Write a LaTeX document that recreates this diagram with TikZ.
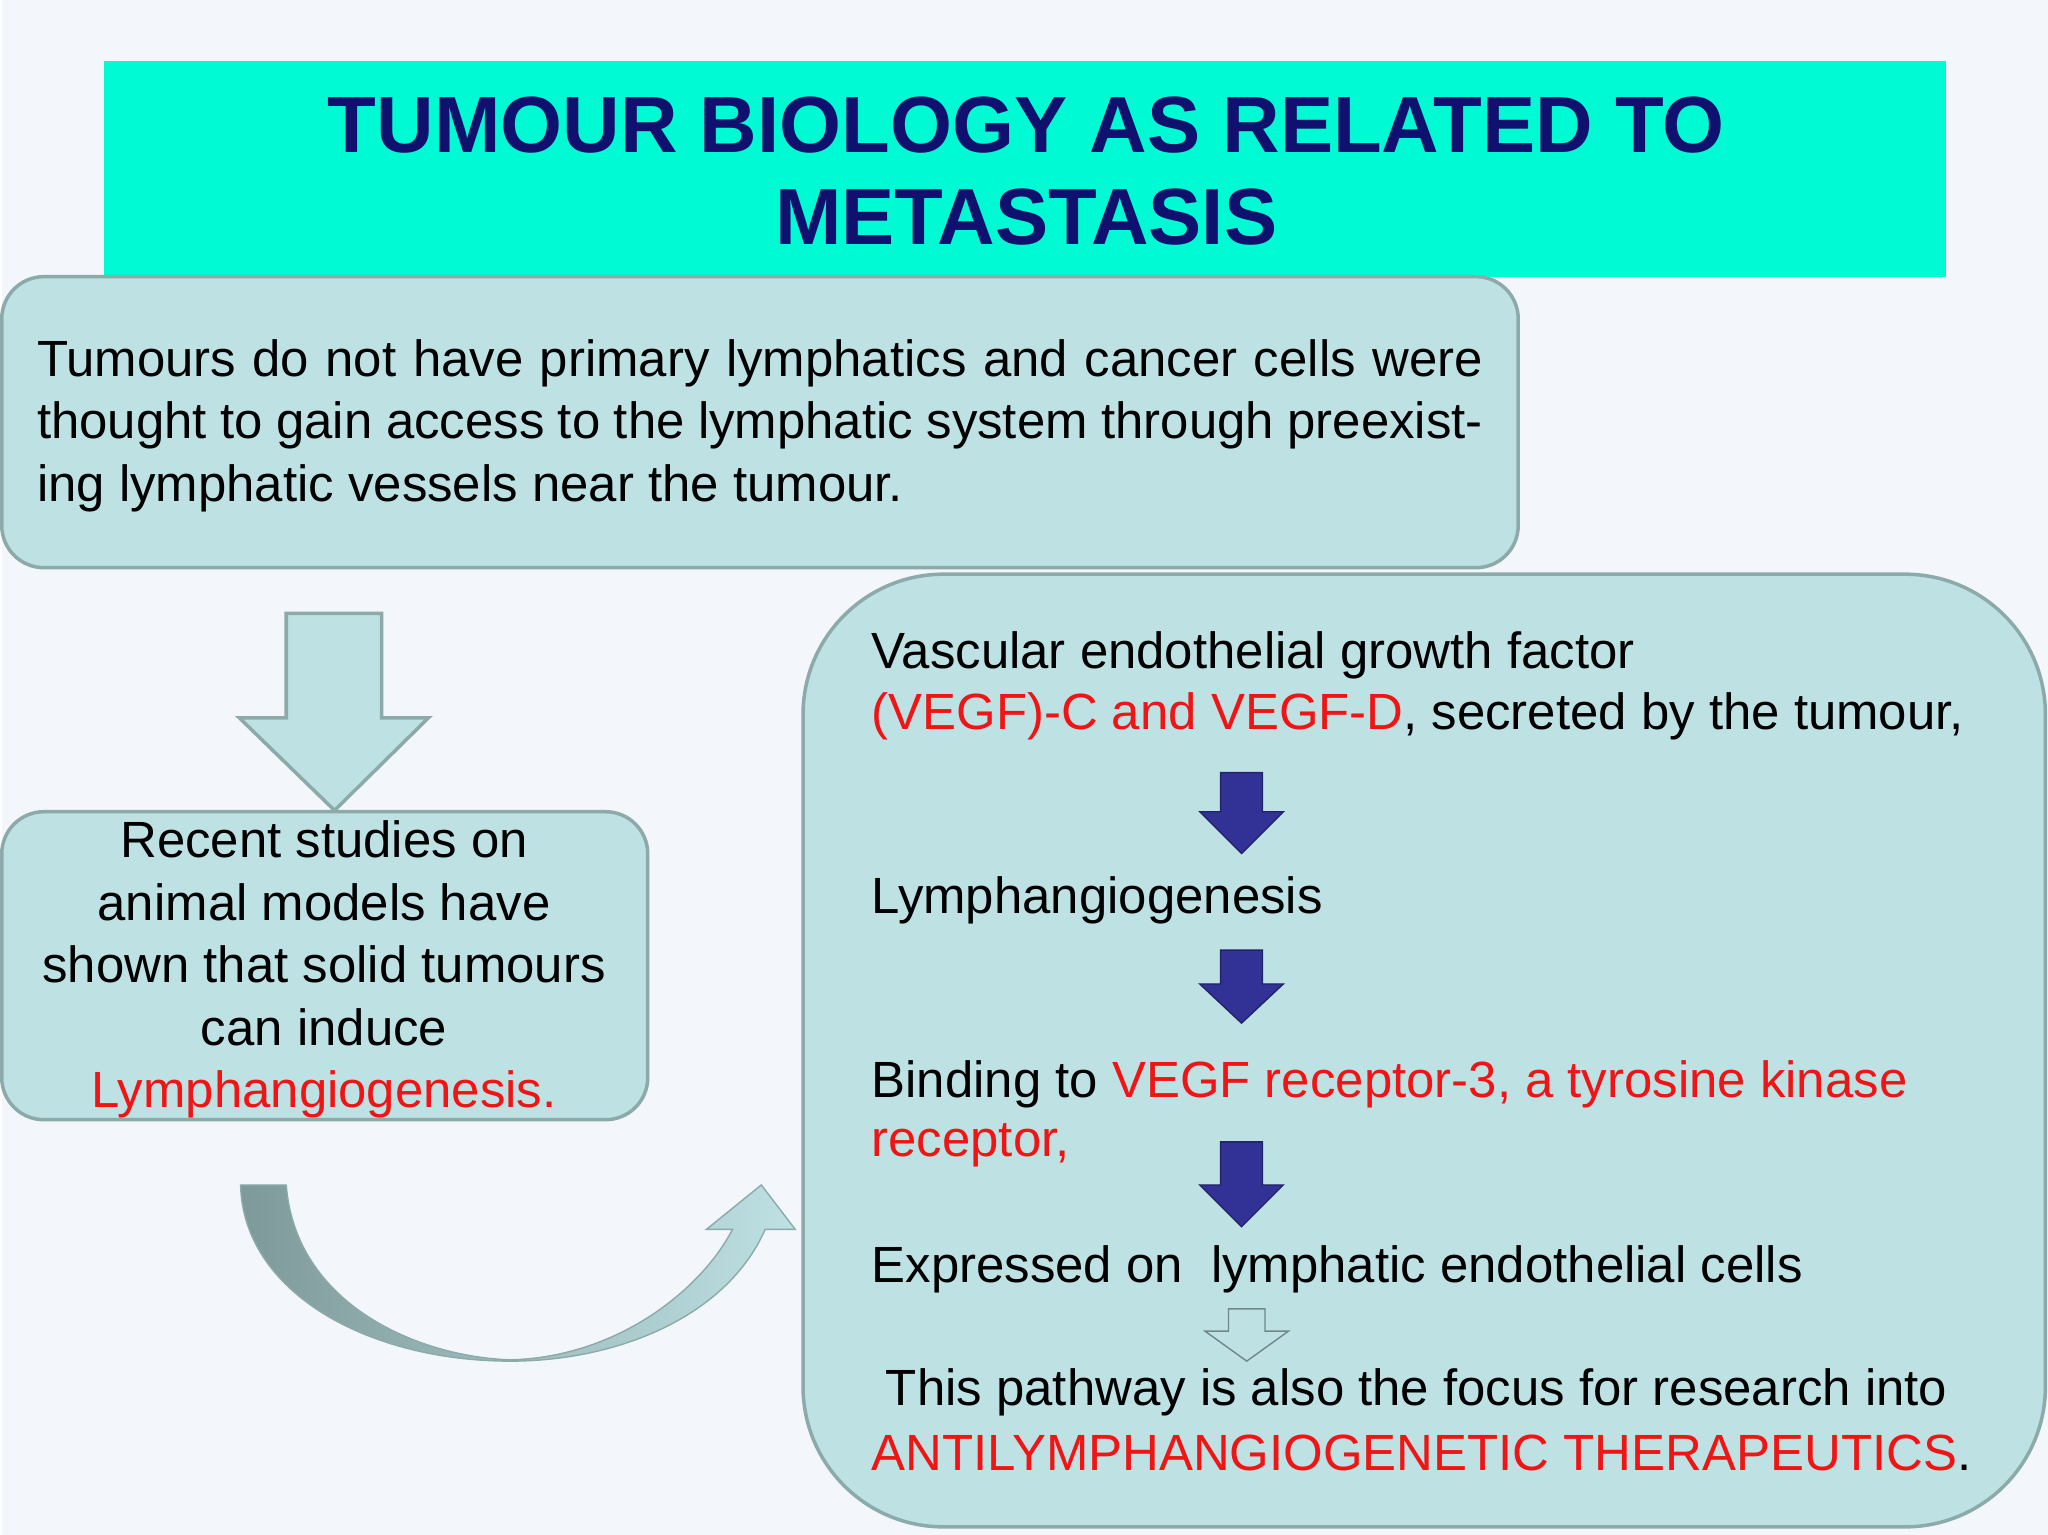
\documentclass[tikz,border=0pt]{standalone}
\usepackage{fontspec}
\setmainfont{Liberation Sans}
\usetikzlibrary{positioning}
\definecolor{pagebg}{RGB}{243,246,250}
\definecolor{titlebg}{RGB}{0,250,212}
\definecolor{titleink}{RGB}{16,16,110}
\definecolor{boxbg}{RGB}{190,225,228}
\definecolor{boxline}{RGB}{140,170,170}
\definecolor{arrowblue}{RGB}{50,50,150}
\definecolor{hired}{RGB}{240,20,20}
\begin{document}
\begin{tikzpicture}[x=0.01306cm,y=-0.01306cm,
  panel/.style={draw=boxline,line width=1pt,fill=boxbg},
  txt/.style={inner sep=0pt,anchor=west,font=\fontsize{14.5}{17.5}\selectfont},
  blockarrow/.style={fill=arrowblue,draw=arrowblue!70!black}]
  \fill[pagebg] (0,0) rectangle (1568,1176);
  % title
  \fill[titlebg] (78,47) rectangle (1490,212);
  \node[inner sep=0pt,align=center,text=titleink,font=\fontsize{22.7}{26}\selectfont\bfseries] (title) at (785,131) {TUMOUR BIOLOGY AS RELATED TO\\METASTASIS};
  % top box
  \draw[panel,rounded corners=12pt] (0,212) rectangle (1162,435);
  \node[inner sep=0pt,text width=14.47cm,align=justify,font=\fontsize{14.5}{17.8}\selectfont] (intro) at (581,326)
    {Tumours do not have primary lymphatics and cancer cells were thought to gain access to the lymphatic system through preexisting lymphatic vessels near the tumour.};
  % hollow down arrow
  \draw[panel] (218,470) -- (291,470) -- (291,550) -- (327,550) -- (255,621) -- (182,550) -- (218,550) -- cycle;
  % left box
  \draw[panel,rounded corners=12pt] (0,622) rectangle (495,858);
  \node[inner sep=0pt,align=center,font=\fontsize{14.5}{17.8}\selectfont] (studies) at (247,743)
    {Recent studies on\\animal models have\\shown that solid tumours\\can induce\\\textcolor{hired}{Lymphangiogenesis.}};
  % curved arrow
  \shade[left color=boxline!90!black,right color=boxbg,draw=boxline]
    (183,908) -- (218,908) .. controls (225,1000) and (320,1040) .. (390,1042)
    .. controls (470,1040) and (535,990) .. (560,942) -- (540,942) -- (582,908) -- (608,942) -- (585,942)
    .. controls (555,1010) and (470,1043) .. (390,1043)
    .. controls (280,1043) and (185,990) .. cycle;
  % right box
  \draw[panel,rounded corners=40pt] (614,440) rectangle (1566,1170);
  \node[txt] (vegf) at (666,502) {Vascular endothelial growth factor};
  \node[txt] (vegfcd) at (666,549) {\textcolor{hired}{(VEGF)-C and VEGF-D}, secreted by the tumour,};
  \node[txt] (lymph) at (666,690) {Lymphangiogenesis};
  \node[txt] (bind) at (666,831) {Binding to \textcolor{hired}{VEGF receptor-3, a tyrosine kinase}};
  \node[txt,text=hired] (recep) at (666,878) {receptor,};
  \node[txt] (expr) at (666,973) {Expressed on\ \ lymphatic endothelial cells};
  \node[txt] (focus) at (677,1067) {This pathway is also the focus for research into};
  \node[txt] (thera) at (666,1113) {\textcolor{hired}{ANTILYMPHANGIOGENETIC THERAPEUTICS}.};
  % step arrows
  \draw[blockarrow] (934,592) -- (966,592) -- (966,622) -- (982,622) -- (950,654) -- (918,622) -- (934,622) -- cycle;
  \draw[blockarrow] (934,728) -- (966,728) -- (966,754) -- (982,754) -- (950,784) -- (918,754) -- (934,754) -- cycle;
  \draw[blockarrow] (934,875) -- (966,875) -- (966,908) -- (982,908) -- (950,940) -- (918,908) -- (934,908) -- cycle;
  \draw[draw=boxline!80!black,fill=boxbg] (940,1003) -- (968,1003) -- (968,1020) -- (986,1020) -- (954,1043) -- (922,1020) -- (940,1020) -- cycle;
\end{tikzpicture}
\end{document}
